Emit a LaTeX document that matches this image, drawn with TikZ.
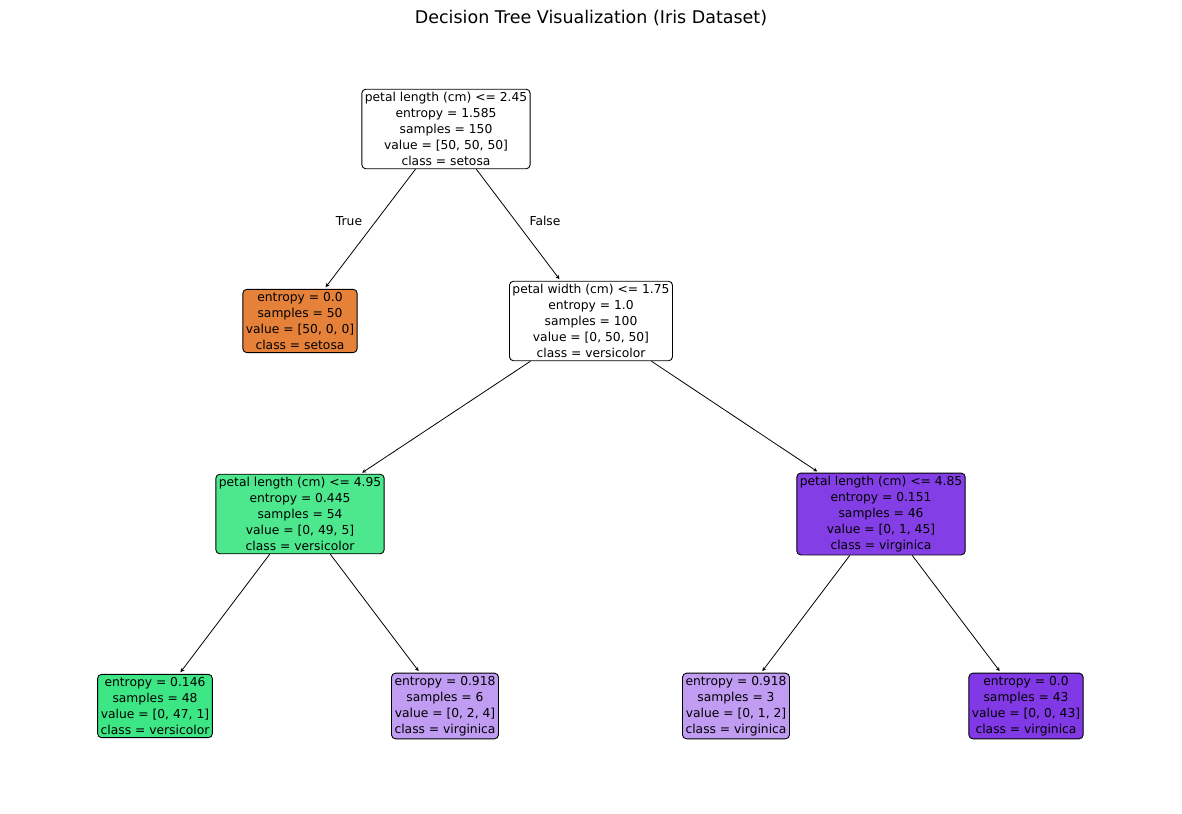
\documentclass[tikz,border=0pt]{standalone}
\usepackage{fontspec}
\setmainfont{DejaVu Sans}
\begin{document}
\begin{tikzpicture}[x=1pt,y=-1pt,
  box/.style={draw=black,line width=0.9pt,rounded corners=4pt,align=center,inner sep=3pt,
    font=\fontsize{12.3}{16}\selectfont},
  edge/.style={-stealth,line width=0.8pt,shorten >=2pt},
  lab/.style={font=\fontsize{12.3}{16}\selectfont}]
\useasboundingbox (0,0) rectangle (1182,813);
\definecolor{orng}{HTML}{E58139}
\definecolor{grn}{HTML}{4DE88E}
\definecolor{grnd}{HTML}{3DE684}
\definecolor{purp}{HTML}{843EE6}
\definecolor{purpd}{HTML}{8139E5}
\definecolor{lpurp}{HTML}{C09CF2}
\node[font=\fontsize{17.5}{20}\selectfont] (title) at (591,18) {Decision Tree Visualization (Iris Dataset)};
\node[box,fill=white] (root) at (446,129) {petal length (cm) <= 2.45\\entropy = 1.585\\samples = 150\\value = [50, 50, 50]\\class = setosa};
\node[box,fill=orng] (a) at (300,321) {entropy = 0.0\\samples = 50\\value = [50, 0, 0]\\class = setosa};
\node[box,fill=white] (b) at (591,321) {petal width (cm) <= 1.75\\entropy = 1.0\\samples = 100\\value = [0, 50, 50]\\class = versicolor};
\node[box,fill=grn] (c) at (300,514) {petal length (cm) <= 4.95\\entropy = 0.445\\samples = 54\\value = [0, 49, 5]\\class = versicolor};
\node[box,fill=purp] (d) at (881,514) {petal length (cm) <= 4.85\\entropy = 0.151\\samples = 46\\value = [0, 1, 45]\\class = virginica};
\node[box,fill=grnd] (e) at (155,706) {entropy = 0.146\\samples = 48\\value = [0, 47, 1]\\class = versicolor};
\node[box,fill=lpurp] (f) at (445,706) {entropy = 0.918\\samples = 6\\value = [0, 2, 4]\\class = virginica};
\node[box,fill=lpurp] (g) at (736,706) {entropy = 0.918\\samples = 3\\value = [0, 1, 2]\\class = virginica};
\node[box,fill=purpd] (h) at (1026,706) {entropy = 0.0\\samples = 43\\value = [0, 0, 43]\\class = virginica};
\draw[edge] (root) -- (a);
\draw[edge] (root) -- (b);
\draw[edge] (b) -- (c);
\draw[edge] (b) -- (d);
\draw[edge] (c) -- (e);
\draw[edge] (c) -- (f);
\draw[edge] (d) -- (g);
\draw[edge] (d) -- (h);
\node[lab] (t) at (349,221) {True};
\node[lab] (fl) at (545,221) {False};
\end{tikzpicture}
\end{document}
